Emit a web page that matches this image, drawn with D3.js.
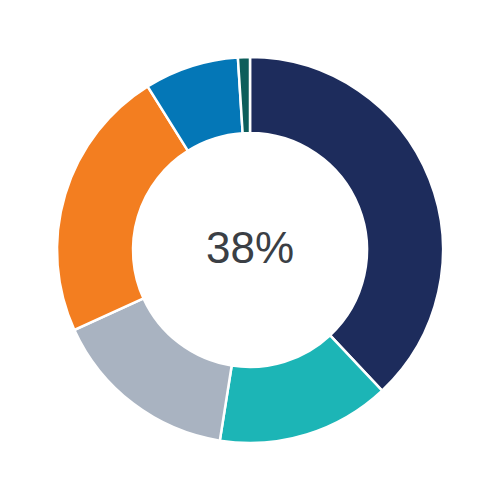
<!DOCTYPE html>
<html>
<head>
<meta charset="utf-8">
<script src="https://cdn.jsdelivr.net/npm/d3@7"></script>
<style>
  body { margin: 0; background: #fff; }
</style>
</head>
<body>
<div id="chart"></div>
<script>
// slices, clockwise from 12 o'clock
const categories = ['A', 'B', 'C', 'D', 'E', 'F'];
const values = [38, 14.5, 15.7, 22.9, 7.9, 1.0];
const colors = ['#1d2c5c', '#1cb5b6', '#a9b3c1', '#f37e20', '#0477b7', '#0d5e5b'];
const centerLabel = '38%';

const width = 500;
const height = 500;
const outerR = 193;
const innerR = 117;

const svg = d3.select('#chart')
  .append('svg')
  .attr('width', width)
  .attr('height', height);

const g = svg.append('g')
  .attr('transform', `translate(${width / 2},${height / 2})`);

const pie = d3.pie().sort(null).value(d => d.value);
const arc = d3.arc().innerRadius(innerR).outerRadius(outerR);

const data = categories.map((c, i) => ({ name: c, value: values[i], color: colors[i] }));

g.selectAll('path')
  .data(pie(data))
  .enter().append('path')
  .attr('d', arc)
  .attr('fill', d => d.data.color)
  .attr('stroke', '#fff')
  .attr('stroke-width', 2.5);

g.append('text')
  .attr('text-anchor', 'middle')
  .attr('dy', '0.29em')
  .style('font-family', 'Liberation Sans, Arial, sans-serif')
  .style('font-size', '44px')
  .style('fill', '#3b3f45')
  .text(centerLabel);
</script>
</body>
</html>
